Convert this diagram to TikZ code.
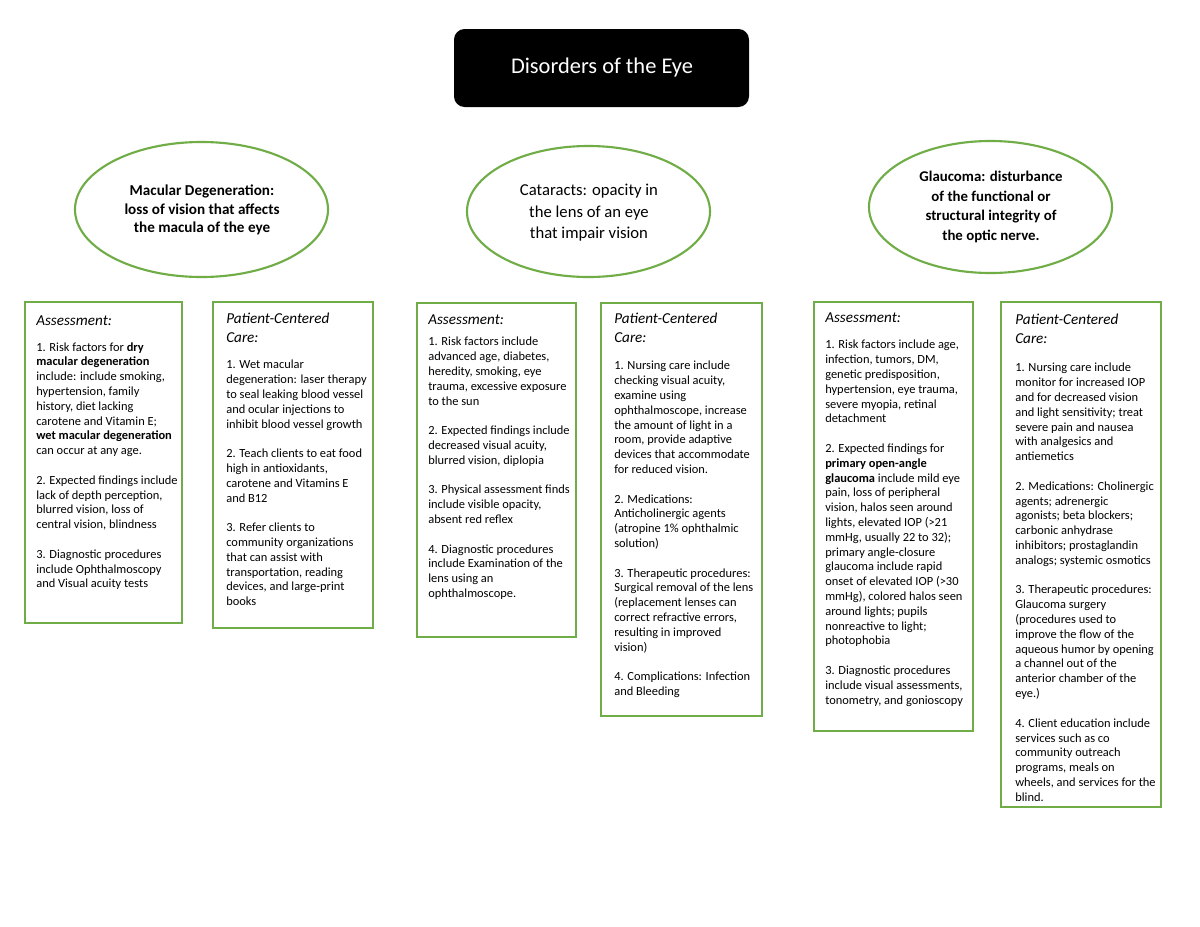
\documentclass[tikz,border=0pt]{standalone}
\usepackage{fontspec}
\setmainfont{Carlito}
\usepackage{xcolor}
\usepackage{tikz}
\definecolor{egreen}{HTML}{70AD47}

\begin{document}
\begin{tikzpicture}[x=0.66pt, y=-0.66pt,
  card/.style={draw=egreen, line width=1.4pt},
  cardhead/.style={anchor=north west, inner sep=0pt, align=left, font=\fontsize{10}{12.3}\selectfont\itshape},
  cardtext/.style={anchor=north west, inner sep=0pt, align=left, font=\fontsize{8.2}{9.77}\selectfont},
  topic/.style={draw=egreen, line width=1.4pt}]
\useasboundingbox (0,0) rectangle (1200,927);
\fill[white] (0,0) rectangle (1200,927);
% title
\fill[black, rounded corners=7pt] (454,29) rectangle (749,107);
\node (title) [font=\fontsize{14.8}{17}\selectfont, text=white] at (602,68) {Disorders of the Eye};
% the three disorders
\draw[topic] (201.5,209.5) ellipse [x radius=126.5, y radius=67.5];
\node (macular) [align=center, font=\fontsize{10}{12.2}\selectfont\bfseries] at (202,210)
  {Macular Degeneration:\\loss of vision that affects\\the macula of the eye};
\draw[topic] (588.5,211.5) ellipse [x radius=121.5, y radius=65.5];
\node (cataract) [align=center, font=\fontsize{11}{14.2}\selectfont] at (589,213)
  {Cataracts: opacity in\\the lens of an eye\\that impair vision};
\draw[topic] (990.5,207) ellipse [x radius=121.5, y radius=66];
\node (glaucoma) [align=center, font=\fontsize{9.8}{13}\selectfont\bfseries] at (991,207)
  {Glaucoma: disturbance\\of the functional or\\structural integrity of\\the optic nerve.};
% macular degeneration
\draw[card] (25,302) rectangle (182,623);
\node (maHead) [cardhead] at (36,315) {Assessment:};
\node (maText) [cardtext] at (36,342) {1. Risk factors for \textbf{dry}\\
\textbf{macular degeneration}\\
include: include smoking,\\
hypertension, family\\
history, diet lacking\\
carotene and Vitamin E;\\
\textbf{wet macular degeneration}\\
can occur at any age.\\[9.77pt]
2. Expected findings include\\
lack of depth perception,\\
blurred vision, loss of\\
central vision, blindness\\[9.77pt]
3. Diagnostic procedures\\
include Ophthalmoscopy\\
and Visual acuity tests};
\draw[card] (213,302) rectangle (373,628);
\node (mpHead) [cardhead] at (226,313) {Patient-Centered\\Care:};
\node (mpText) [cardtext] at (226,360) {1. Wet macular\\
degeneration: laser therapy\\
to seal leaking blood vessel\\
and ocular injections to\\
inhibit blood vessel growth\\[9.77pt]
2. Teach clients to eat food\\
high in antioxidants,\\
carotene and Vitamins E\\
and B12\\[9.77pt]
3. Refer clients to\\
community organizations\\
that can assist with\\
transportation, reading\\
devices, and large-print\\
books};
% cataracts
\draw[card] (417,303) rectangle (576,637);
\node (caHead) [cardhead] at (428,314) {Assessment:};
\node (caText) [cardtext] at (428,337) {1. Risk factors include\\
advanced age, diabetes,\\
heredity, smoking, eye\\
trauma, excessive exposure\\
to the sun\\[9.77pt]
2. Expected findings include\\
decreased visual acuity,\\
blurred vision, diplopia\\[9.77pt]
3. Physical assessment finds\\
include visible opacity,\\
absent red reflex\\[9.77pt]
4. Diagnostic procedures\\
include Examination of the\\
lens using an\\
ophthalmoscope.};
\draw[card] (601,303) rectangle (762,716);
\node (cpHead) [cardhead] at (614,313) {Patient-Centered\\Care:};
\node (cpText) [cardtext] at (614,361) {1. Nursing care include\\
checking visual acuity,\\
examine using\\
ophthalmoscope, increase\\
the amount of light in a\\
room, provide adaptive\\
devices that accommodate\\
for reduced vision.\\[9.77pt]
2. Medications:\\
Anticholinergic agents\\
(atropine 1\% ophthalmic\\
solution)\\[9.77pt]
3. Therapeutic procedures:\\
Surgical removal of the lens\\
(replacement lenses can\\
correct refractive errors,\\
resulting in improved\\
vision)\\[9.77pt]
4. Complications: Infection\\
and Bleeding};
% glaucoma
\draw[card] (814,302) rectangle (973,731);
\node (gaHead) [cardhead] at (825,312) {Assessment:};
\node (gaText) [cardtext] at (825,340) {1. Risk factors include age,\\
infection, tumors, DM,\\
genetic predisposition,\\
hypertension, eye trauma,\\
severe myopia, retinal\\
detachment\\[9.77pt]
2. Expected findings for\\
\textbf{primary open-angle}\\
\textbf{glaucoma} include mild eye\\
pain, loss of peripheral\\
vision, halos seen around\\
lights, elevated IOP (>21\\
mmHg, usually 22 to 32);\\
primary angle-closure\\
glaucoma include rapid\\
onset of elevated IOP (>30\\
mmHg), colored halos seen\\
around lights; pupils\\
nonreactive to light;\\
photophobia\\[9.77pt]
3. Diagnostic procedures\\
include visual assessments,\\
tonometry, and gonioscopy};
\draw[card] (1001,302) rectangle (1161,807);
\node (gpHead) [cardhead] at (1015,314) {Patient-Centered\\Care:};
\node (gpText) [cardtext] at (1015,363) {1. Nursing care include\\
monitor for increased IOP\\
and for decreased vision\\
and light sensitivity; treat\\
severe pain and nausea\\
with analgesics and\\
antiemetics\\[9.77pt]
2. Medications: Cholinergic\\
agents; adrenergic\\
agonists; beta blockers;\\
carbonic anhydrase\\
inhibitors; prostaglandin\\
analogs; systemic osmotics\\[9.77pt]
3. Therapeutic procedures:\\
Glaucoma surgery\\
(procedures used to\\
improve the flow of the\\
aqueous humor by opening\\
a channel out of the\\
anterior chamber of the\\
eye.)\\[9.77pt]
4. Client education include\\
services such as co\\
community outreach\\
programs, meals on\\
wheels, and services for the\\
blind.};
\end{tikzpicture}
\end{document}
